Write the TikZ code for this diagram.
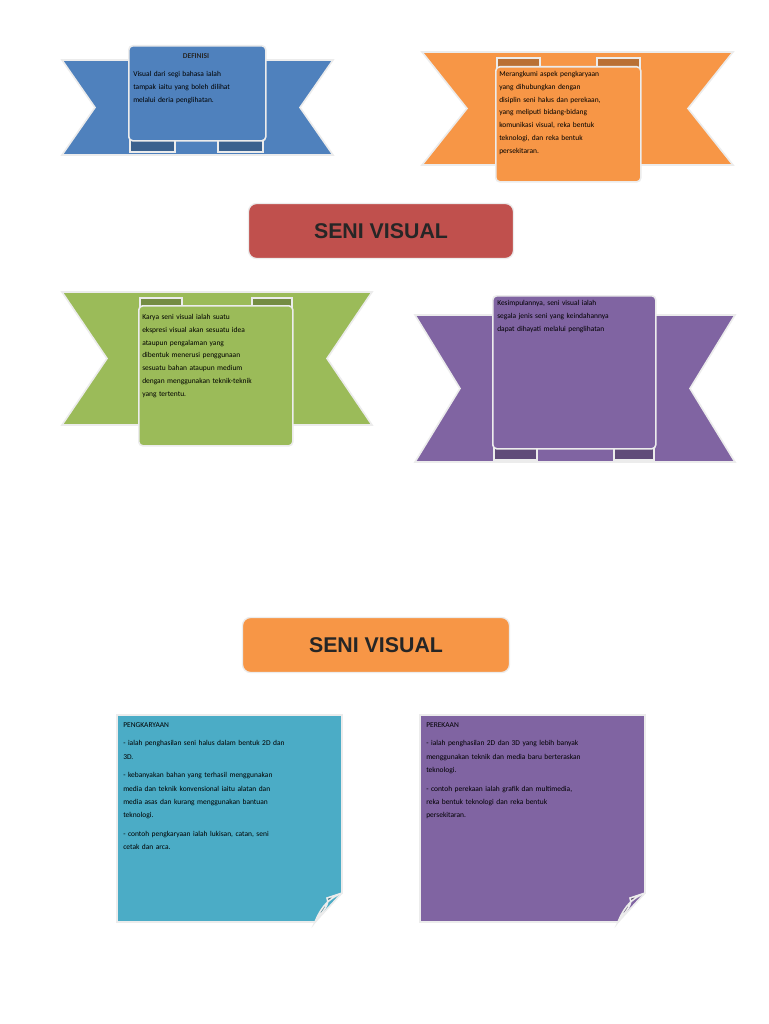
\documentclass[tikz,border=0pt]{standalone}
\usepackage{fontspec}
\setmainfont{Carlito}
\newfontfamily\titlefont{Liberation Sans}
\definecolor{cblue}{HTML}{4F81BD}
\definecolor{corange}{HTML}{F79646}
\definecolor{cred}{HTML}{C0504D}
\definecolor{cgreen}{HTML}{9BBB59}
\definecolor{cpurple}{HTML}{8064A2}
\definecolor{cteal}{HTML}{4BACC6}
\tikzset{
 band/.style={draw=white!85!gray, line width=1.2pt, line join=miter},
 panel/.style={draw=white!85!gray, line width=1.2pt, rounded corners=3pt},
 txt/.style={anchor=north west, inner sep=0pt, font=\fontsize{5.6}{9.6}\selectfont, align=left},
 title/.style={draw=white!85!gray, line width=1pt, rounded corners=6pt, minimum width=#1, font=\titlefont\bfseries\fontsize{16}{18}\selectfont, text=black!85},
 note/.style={draw=white!85!gray, line width=1.2pt},
}
% \ribbon{x1}{x2}{ytop}{ybot}{notch}{px1}{px2}{ptop}{pbot}{color}
\newcommand\ribbon[9]{%
 \fill[#9, band] (#1,#3) -- (#2,#3) -- ({#2-#5},{(#3+#4)/2}) -- (#2,#4) -- (#1,#4) -- ({#1+#5},{(#3+#4)/2}) -- cycle;}
\begin{document}
\begin{tikzpicture}[x=0.75pt,y=-0.75pt]
\useasboundingbox (0,0) rectangle (768,1024);
\fill[white] (0,0) rectangle (768,1024);
% blue
\ribbon{62}{333}{60}{155}{33}{}{}{}{cblue}
\fill[cblue!75!black, band] (130,138) rectangle (175,152);
\fill[cblue!75!black, band] (218,138) rectangle (263,152);
\node[panel, fill=cblue, minimum width=137*0.75pt, minimum height=95*0.75pt, anchor=north west] (bluep) at (128,45) {};
\node[font=\fontsize{5.6}{7}\selectfont\bfseries, text=black!85] (blueh) at (196,56) {DEFINISI};
\node[txt, text width=130*0.75pt] (bluet) at (133,71) {Visual dari segi bahasa ialah\\ tampak iaitu yang boleh dilihat\\ melalui deria penglihatan.};
% orange
\ribbon{422}{733}{52}{165}{45}{}{}{}{corange}
\fill[corange!75!black, band] (497,58) rectangle (540,72);
\fill[corange!75!black, band] (597,58) rectangle (640,72);
\node[panel, fill=corange, minimum width=145*0.75pt, minimum height=115*0.75pt, anchor=north west] (orp) at (495,66) {};
\node[txt, text width=140*0.75pt] (ort) at (499,71) {Merangkumi aspek pengkaryaan\\ yang dihubungkan dengan\\ disiplin seni halus dan perekaan,\\ yang meliputi bidang-bidang\\ komunikasi visual, reka bentuk\\ teknologi, dan reka bentuk\\ persekitaran.};
% red title
\node[title=265*0.75pt, minimum height=55*0.75pt, fill=cred] (t1) at (381,231) {SENI VISUAL};
% green
\ribbon{62}{372}{292}{425}{45}{}{}{}{cgreen}
\fill[cgreen!75!black, band] (140,298) rectangle (182,312);
\fill[cgreen!75!black, band] (252,298) rectangle (292,312);
\node[panel, fill=cgreen, minimum width=154*0.75pt, minimum height=140*0.75pt, anchor=north west] (grp) at (138,305) {};
\node[txt, text width=150*0.75pt] (grt) at (142,314) {Karya seni visual ialah suatu\\ ekspresi visual akan sesuatu idea\\ ataupun pengalaman yang\\ dibentuk menerusi penggunaan\\ sesuatu bahan ataupun medium\\ dengan menggunakan teknik-teknik\\ yang tertentu.};
% purple
\ribbon{415}{735}{315}{462}{45}{}{}{}{cpurple}
\fill[cpurple!75!black, band] (494,445) rectangle (537,460);
\fill[cpurple!75!black, band] (614,445) rectangle (654,460);
\node[panel, fill=cpurple, minimum width=163*0.75pt, minimum height=153*0.75pt, anchor=north west] (pup) at (492,295) {};
\node[txt, text width=158*0.75pt] (put) at (497,300) {Kesimpulannya, seni visual ialah\\ segala jenis seni yang keindahannya\\ dapat dihayati melalui penglihatan};
% orange title
\node[title=267*0.75pt, minimum height=55*0.75pt, fill=corange] (t2) at (376,645) {SENI VISUAL};
% teal note
\path[note, fill=cteal] (117,715) -- (342,715) -- (342,893) -- (315,922) -- (117,922) -- cycle;
\fill[cteal!60!black, note] (342,893) .. controls (330,898) and (322,905) .. (315,922) .. controls (322,912) and (330,905) .. (327,898) -- cycle;
\node[txt, text width=220*0.75pt, font=\fontsize{5.6}{10}\selectfont] (tet) at (123,722) {PENGKARYAAN\\[4pt] - ialah penghasilan seni halus dalam bentuk 2D dan\\ 3D.\\[4pt] - kebanyakan bahan yang terhasil menggunakan\\ media dan teknik konvensional iaitu alatan dan\\ media asas dan kurang menggunakan bantuan\\ teknologi.\\[4pt] - contoh pengkaryaan ialah lukisan, catan, seni\\ cetak dan arca.};
% purple note
\path[note, fill=cpurple] (420,715) -- (645,715) -- (645,893) -- (618,922) -- (420,922) -- cycle;
\fill[cpurple!60!black, note] (645,893) .. controls (633,898) and (625,905) .. (618,922) .. controls (625,912) and (633,905) .. (630,898) -- cycle;
\node[txt, text width=220*0.75pt, font=\fontsize{5.6}{10}\selectfont] (pnt) at (426,722) {PEREKAAN\\[4pt] - ialah penghasilan 2D dan 3D yang lebih banyak\\ menggunakan teknik dan media baru berteraskan\\ teknologi.\\[4pt] - contoh perekaan ialah grafik dan multimedia,\\ reka bentuk teknologi dan reka bentuk\\ persekitaran.};
\end{tikzpicture}
\end{document}
